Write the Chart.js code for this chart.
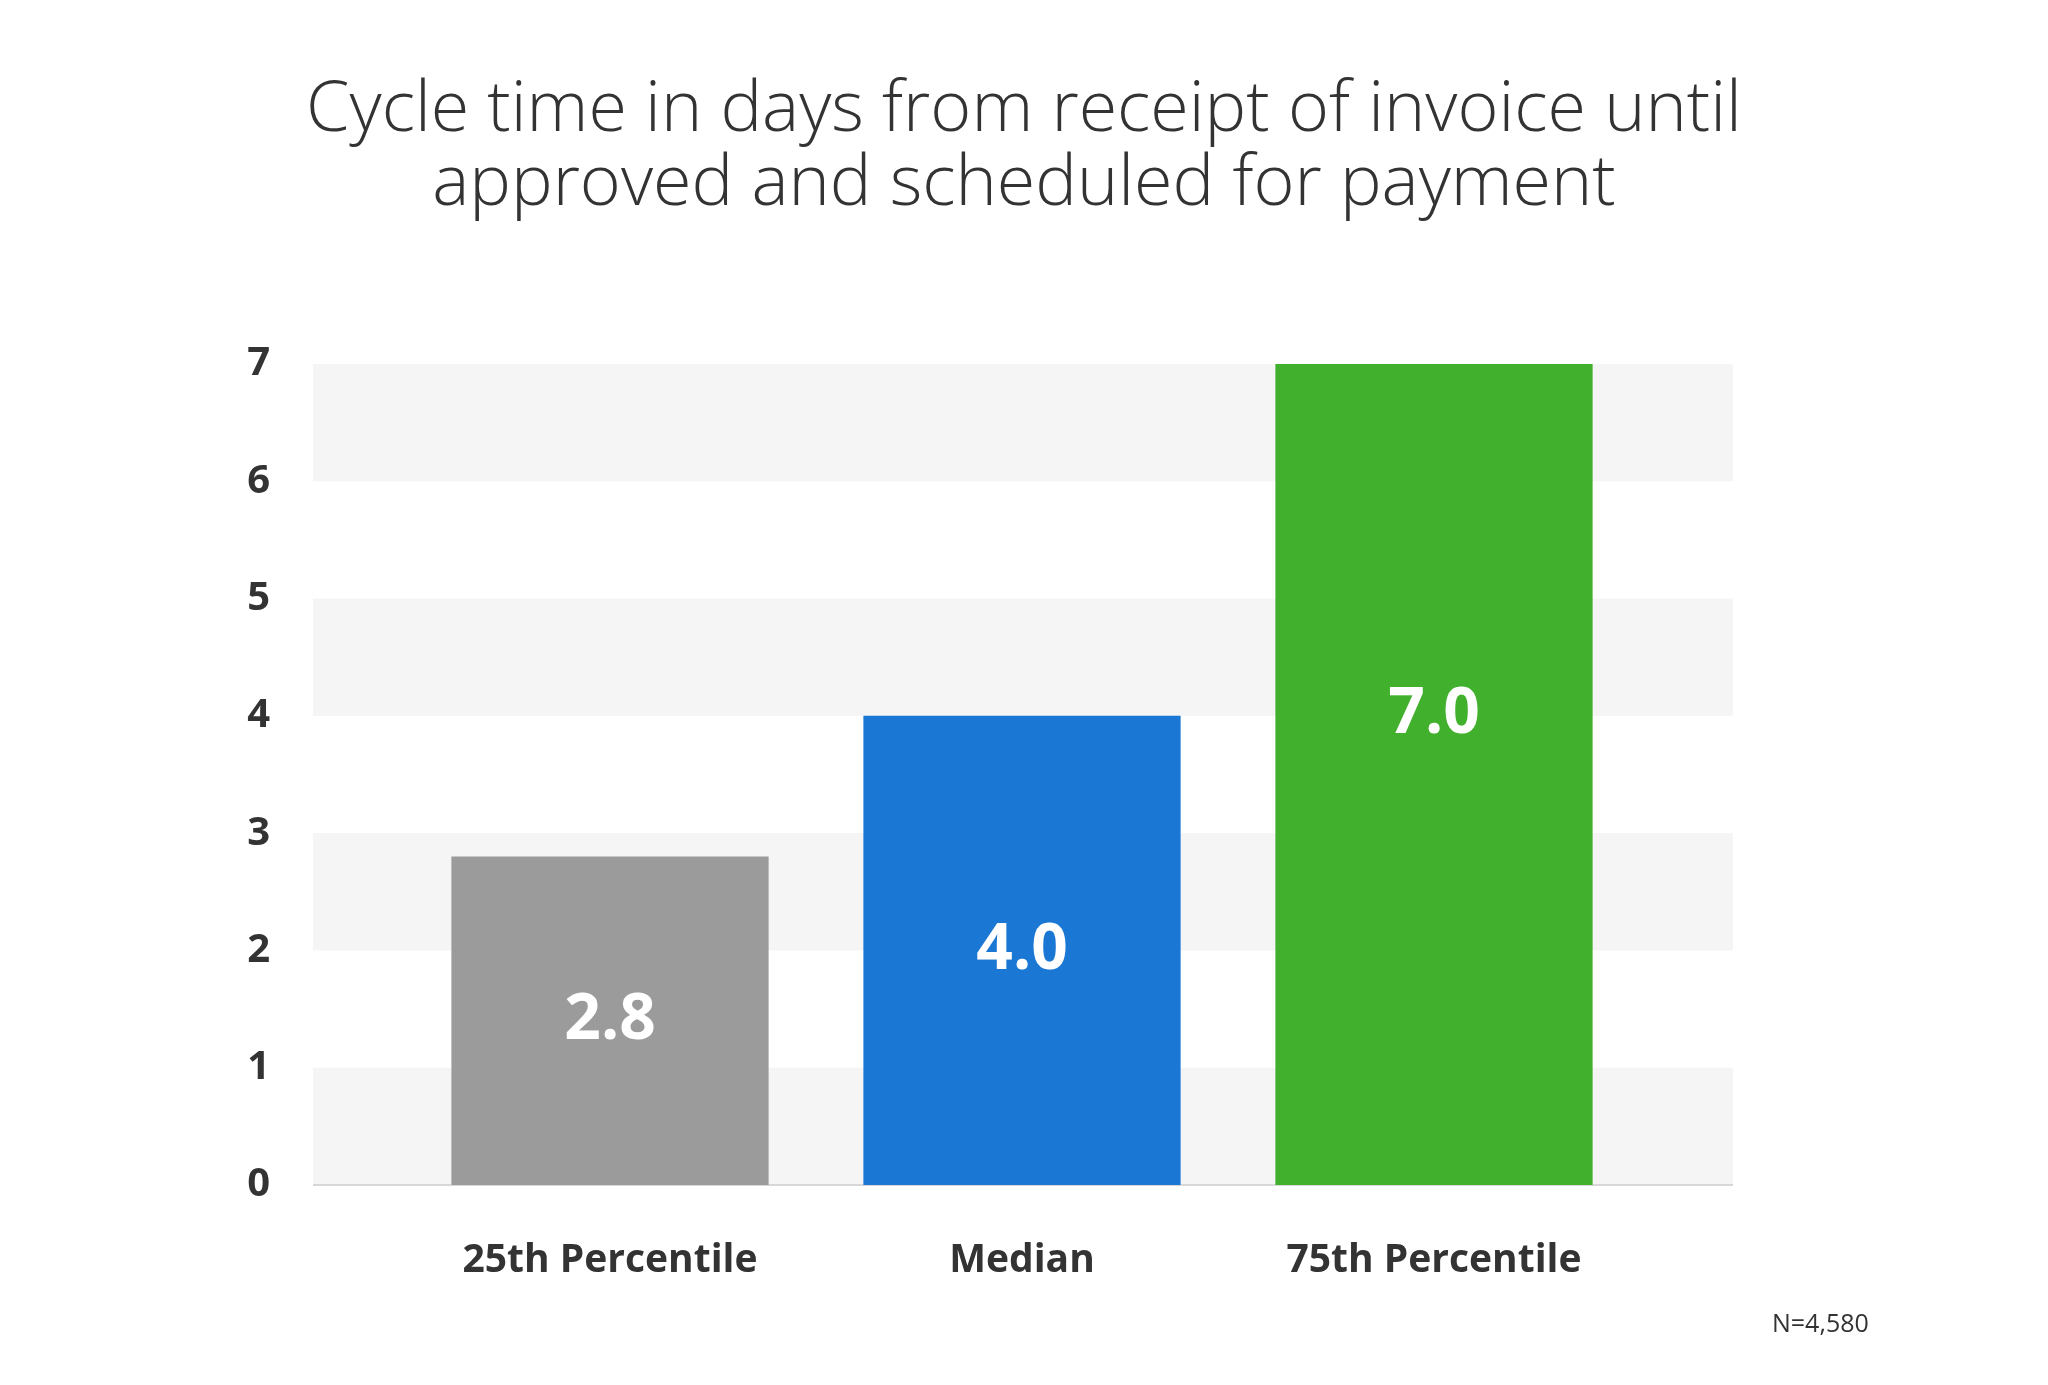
<!DOCTYPE html><html><head><meta charset="utf-8">
<script src="https://cdn.jsdelivr.net/npm/chart.js@4"></script>
<style>html,body{margin:0;padding:0;background:#fff}#w{width:2048px;height:1385px}</style></head><body>
<div id="w"><canvas id="c"></canvas></div>
<script>
const categories=["25th Percentile","Median","75th Percentile"];
const values=[2.8,4.0,7.0];
const barColors=["#9b9b9b","#1a77d4","#41b02c"];
const yTicks=[0,1,2,3,4,5,6,7];
const titleLines=["Cycle time in days from receipt of invoice until","approved and scheduled for payment"];
const note="N=4,580";
const deco={id:'deco',
 beforeDatasetsDraw(ch){const c=ch.ctx,y=ch.scales.y;c.save();c.fillStyle='#f5f5f5';
  for(let v=0;v<7;v+=2){const t=y.getPixelForValue(v+1),b=y.getPixelForValue(v);c.fillRect(313,t,1420,b-t);}
  c.fillStyle='#d8d8d8';c.fillRect(313,y.getPixelForValue(0)-1,1420,2);c.restore();},
 afterDraw(ch){const c=ch.ctx;c.save();c.fillStyle='#333';c.textAlign='center';c.textBaseline='middle';
  c.font='300 70px "Open Sans"';titleLines.forEach((l,i)=>c.fillText(l,1024,111+i*74));
  c.font='400 25px "Open Sans"';c.textAlign='left';c.fillText(note,1772,1325);
  const m=ch.getDatasetMeta(0);c.fillStyle='#fff';c.textAlign='center';c.font='700 64px "Open Sans"';
  m.data.forEach((b,i)=>{c.fillText(values[i].toFixed(1),b.x,(b.y+b.base)/2-(i==2?60:0));});
  c.restore();}};
new Chart(document.getElementById('c'),{type:'bar',
 data:{labels:categories,datasets:[{data:values,backgroundColor:barColors,barPercentage:0.77,categoryPercentage:1}]},
 options:{responsive:true,maintainAspectRatio:false,animation:false,
  layout:{padding:{top:364,right:408,left:0,bottom:0}},
  plugins:{legend:{display:false},tooltip:{enabled:false}},
  scales:{
   x:{grid:{display:false,drawTicks:false},border:{display:false},
      ticks:{color:'#333',font:{family:'Open Sans',weight:'700',size:39},padding:52},
      afterFit(s){s.height=200;}},
   y:{min:0,max:7,grid:{display:false,drawTicks:false},border:{display:false},
      afterBuildTicks(s){s.ticks=yTicks.map(v=>({value:v}));},
      ticks:{color:'#333',font:{family:'Open Sans',weight:'700',size:40},padding:134},
      afterFit(s){s.width=404;}}}},
 plugins:[deco]});
</script></body></html>
